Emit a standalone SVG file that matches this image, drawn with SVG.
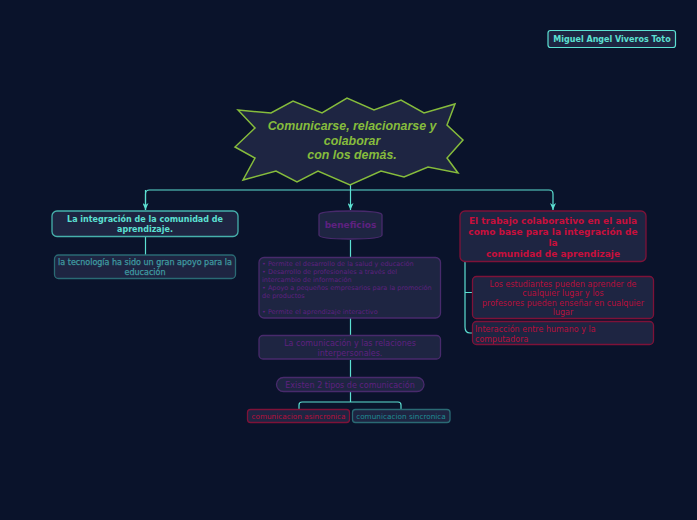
<svg xmlns="http://www.w3.org/2000/svg" width="697" height="520" viewBox="0 0 697 520">
<style>
text{font-family:"DejaVu Sans",sans-serif;text-anchor:middle}
.b{fill:#1e2542;stroke-width:1.3}
.c{fill:none;stroke:#5ce0d2;stroke-width:1.2}
.pu{fill:#5e2180}.re{fill:#b80f3c}.te{fill:#3f9aa0;stroke:#3f9aa0;stroke-width:.25}
.spu{stroke:#482a6c}.sre{stroke:#7e1238}.ste{stroke:#2a6a74}
.l{text-anchor:start}
</style>
<defs><marker id="a" markerUnits="userSpaceOnUse" markerWidth="7" markerHeight="6" refX="7" refY="3" orient="auto" viewBox="0 0 7 6"><path d="M0 0L7 3L0 6L2 3Z" fill="#5ce0d2"/></marker></defs>
<rect width="697" height="520" fill="#0a132b"/>
<g id="connectors">
<path class="c" d="M145.500 210V194Q145.500 190 149.500 190H549Q553 190 553 194V210" marker-end="url(#a)"/>
<path class="c" d="M145.500 190V210" marker-end="url(#a)"/>
<path class="c" d="M350.500 184V210" marker-end="url(#a)"/>
<path class="c" d="M145.500 237V255M350.500 240V257M350.500 318V335M350.500 360V377M350.500 392V402M299 409V405Q299 402 302 402H398Q401 402 401 405V409M465 262V327Q465 333 470 333H472M465 292.500H472"/>
</g>
<g id="n-author"><rect x="548" y="30.500" width="127.500" height="17" rx="2.500" fill="#1e2542" stroke="#5ce0d2" stroke-width="1.200"/><text x="612" y="42" font-size="8" font-weight="700" fill="#5ce0d2">Miguel Angel Viveros Toto</text></g>
<g id="n-root"><path d="M238 110L271 113L293 101L322 113L347 98L374 110L401 100L424 113L455 104L447 125L463 140L447 158L458 173L428 167L404 177L381 171L350 185L318 171L297 182L276 171L243 180L255 158L235 147L255 128Z" fill="#1e2542" stroke="#86bc3c" stroke-width="1.500"/>
<text font-size="12.400" font-weight="700" font-style="italic" fill="#86bc3c" style="font-family:'Liberation Sans',sans-serif"><tspan x="352" y="130">Comunicarse, relacionarse y</tspan><tspan x="352" y="145">colaborar</tspan><tspan x="352" y="159">con los demás.</tspan></text></g>
<g id="n-left"><rect x="52" y="211" width="186" height="25.500" rx="5" fill="#1e2542" stroke="#46b0ac" stroke-width="1.300"/><text font-size="8" font-weight="700" fill="#5ce0d2"><tspan x="145" y="222">La integración de la comunidad de</tspan><tspan x="145" y="232">aprendizaje.</tspan></text></g>
<g id="n-left2"><rect x="54.500" y="255" width="181" height="23.500" rx="4" class="b ste"/><text font-size="8" class="te"><tspan x="145" y="265">la tecnología ha sido un gran apoyo para la</tspan><tspan x="145" y="275">educación</tspan></text></g>
<g id="n-ben"><path d="M319 215Q319 211 350 211Q382 211 382 215V235Q382 239 350 239Q319 239 319 235Z" class="b spu"/><text x="350.500" y="228" font-size="9" font-weight="700" class="pu">beneficios</text></g>
<g id="n-list"><rect x="259" y="257.500" width="181.500" height="60.500" rx="5" class="b spu"/><g font-size="6.500" class="pu"><text x="262" y="266" class="l">• Permite el desarrollo de la salud y educación</text><text x="262" y="274" class="l">• Desarrollo de profesionales a través del</text><text x="262" y="282" class="l">intercambio de información</text><text x="262" y="290" class="l">• Apoyo a pequeños empresarios para la promoción</text><text x="262" y="298" class="l">de productos</text><text x="262" y="314" class="l">• Permite el aprendizaje interactivo</text></g></g>
<g id="n-com"><rect x="259" y="335.500" width="181.500" height="23.500" rx="4" class="b spu"/><text font-size="8" class="pu"><tspan x="350" y="346">La comunicación y las relaciones</tspan><tspan x="350" y="356">interpersonales.</tspan></text></g>
<g id="n-tipos"><rect x="276.500" y="377.500" width="147.500" height="14" rx="7" class="b spu"/><text x="350" y="388" font-size="8" class="pu">Existen 2 tipos de comunicación</text></g>
<g id="n-asin"><rect x="247.500" y="409.500" width="102" height="13" rx="3" class="b sre"/><text x="298.500" y="419" font-size="7.300" class="re">comunicacion asincronica</text></g>
<g id="n-sin"><rect x="352.500" y="409.500" width="97.500" height="13" rx="3" class="b ste"/><text x="401" y="419" font-size="7.300" fill="#1f8c94">comunicacion sincronica</text></g>
<g id="n-right"><rect x="460" y="211" width="186" height="50.500" rx="5" class="b sre"/><text font-size="9" font-weight="700" fill="#c80f3c"><tspan x="553" y="224">El trabajo colaborativo en el aula</tspan><tspan x="553" y="235">como base para la integración de</tspan><tspan x="553" y="246">la</tspan><tspan x="553" y="257">comunidad de aprendizaje</tspan></text></g>
<g id="n-est"><rect x="472.500" y="276.500" width="181" height="42" rx="4" class="b sre"/><text font-size="8" class="re"><tspan x="563" y="287">Los estudiantes pueden aprender de</tspan><tspan x="563" y="296">cualquier lugar y los</tspan><tspan x="563" y="306">profesores pueden enseñar en cualquier</tspan><tspan x="563" y="315">lugar</tspan></text></g>
<g id="n-int"><rect x="472.500" y="321.500" width="181" height="23" rx="4" class="b sre"/><text font-size="8" class="re l"><tspan x="475" y="332">Interacción entre humano y la</tspan><tspan x="475" y="342">computadora</tspan></text></g>
</svg>
